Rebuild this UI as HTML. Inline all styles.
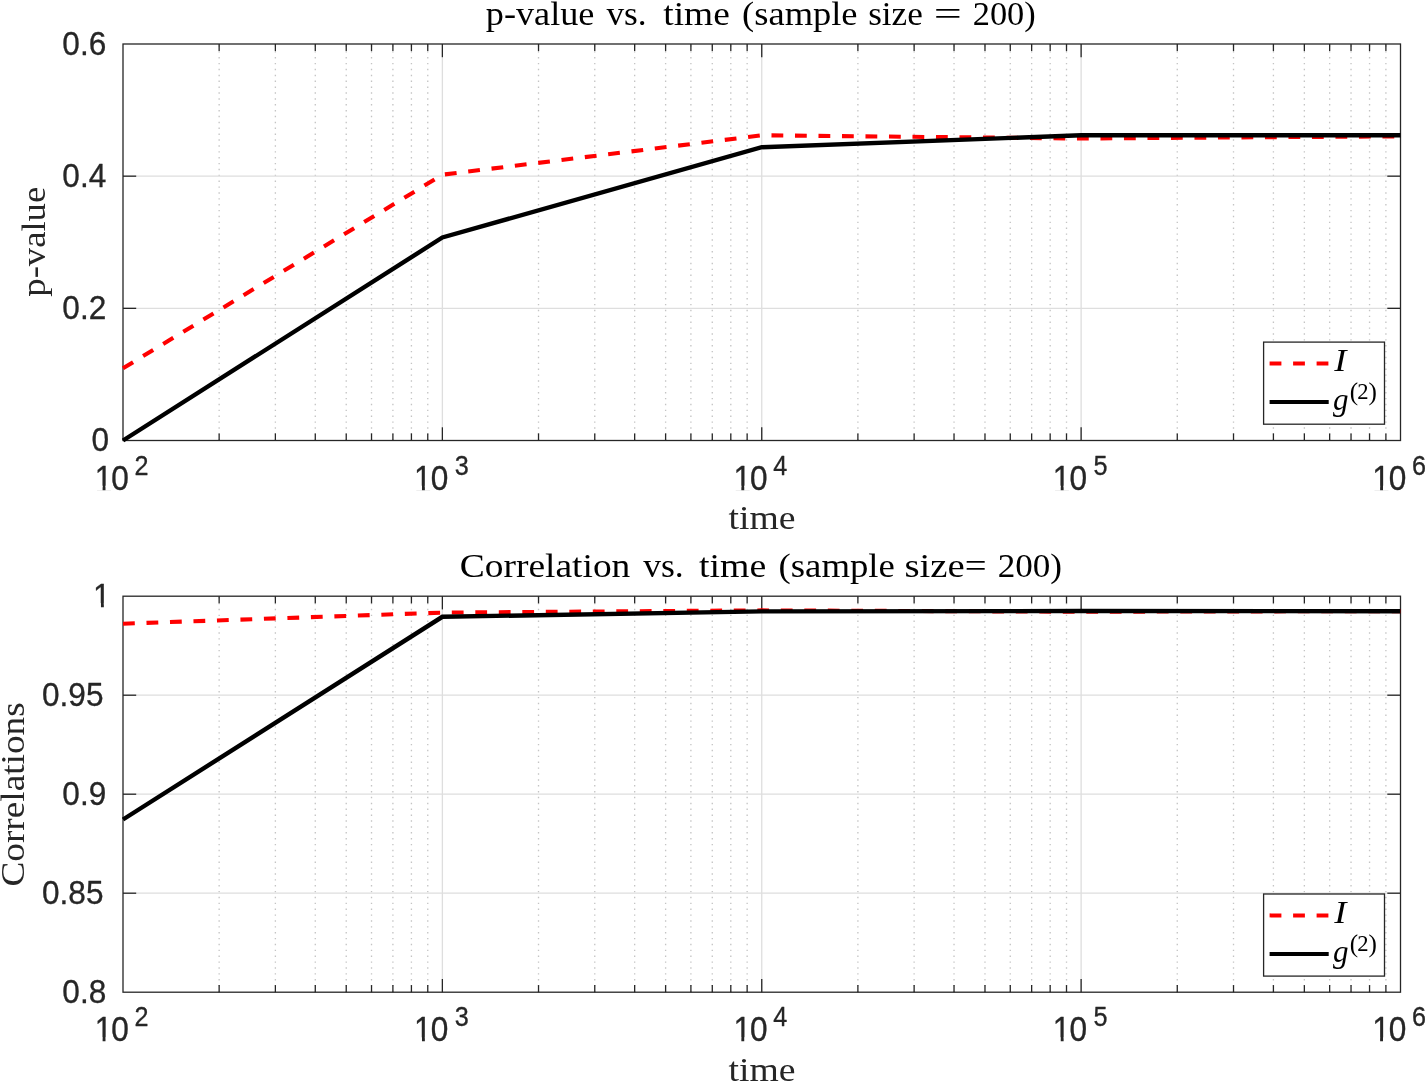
<!DOCTYPE html>
<html lang="en"><head><meta charset="utf-8"><title>p-value and correlation vs. time</title>
<style>html,body{margin:0;padding:0;background:#fff;}svg{display:block;}</style></head><body>
<svg width="1425" height="1081" viewBox="0 0 1425 1081">
<rect width="1425" height="1081" fill="#fff"/>
<g id="axes1">
<g stroke="#c4c4c4" stroke-width="1.33" stroke-dasharray="1.4 4.477" fill="none">
<line x1="219.14" y1="440.5" x2="219.14" y2="44"/>
<line x1="275.38" y1="440.5" x2="275.38" y2="44"/>
<line x1="315.28" y1="440.5" x2="315.28" y2="44"/>
<line x1="346.23" y1="440.5" x2="346.23" y2="44"/>
<line x1="371.52" y1="440.5" x2="371.52" y2="44"/>
<line x1="392.9" y1="440.5" x2="392.9" y2="44"/>
<line x1="411.42" y1="440.5" x2="411.42" y2="44"/>
<line x1="427.76" y1="440.5" x2="427.76" y2="44"/>
<line x1="538.52" y1="440.5" x2="538.52" y2="44"/>
<line x1="594.76" y1="440.5" x2="594.76" y2="44"/>
<line x1="634.66" y1="440.5" x2="634.66" y2="44"/>
<line x1="665.61" y1="440.5" x2="665.61" y2="44"/>
<line x1="690.9" y1="440.5" x2="690.9" y2="44"/>
<line x1="712.28" y1="440.5" x2="712.28" y2="44"/>
<line x1="730.8" y1="440.5" x2="730.8" y2="44"/>
<line x1="747.14" y1="440.5" x2="747.14" y2="44"/>
<line x1="857.89" y1="440.5" x2="857.89" y2="44"/>
<line x1="914.13" y1="440.5" x2="914.13" y2="44"/>
<line x1="954.03" y1="440.5" x2="954.03" y2="44"/>
<line x1="984.98" y1="440.5" x2="984.98" y2="44"/>
<line x1="1010.27" y1="440.5" x2="1010.27" y2="44"/>
<line x1="1031.65" y1="440.5" x2="1031.65" y2="44"/>
<line x1="1050.17" y1="440.5" x2="1050.17" y2="44"/>
<line x1="1066.51" y1="440.5" x2="1066.51" y2="44"/>
<line x1="1177.27" y1="440.5" x2="1177.27" y2="44"/>
<line x1="1233.51" y1="440.5" x2="1233.51" y2="44"/>
<line x1="1273.41" y1="440.5" x2="1273.41" y2="44"/>
<line x1="1304.36" y1="440.5" x2="1304.36" y2="44"/>
<line x1="1329.65" y1="440.5" x2="1329.65" y2="44"/>
<line x1="1351.03" y1="440.5" x2="1351.03" y2="44"/>
<line x1="1369.55" y1="440.5" x2="1369.55" y2="44"/>
<line x1="1385.89" y1="440.5" x2="1385.89" y2="44"/>
</g>
<g stroke="#dedede" stroke-width="1.3" fill="none">
<line x1="442.38" y1="44" x2="442.38" y2="440.5"/>
<line x1="761.75" y1="44" x2="761.75" y2="440.5"/>
<line x1="1081.12" y1="44" x2="1081.12" y2="440.5"/>
<line x1="123" y1="308.33" x2="1400.5" y2="308.33"/>
<line x1="123" y1="176.17" x2="1400.5" y2="176.17"/>
</g>
<g stroke="#262626" stroke-width="1.3" fill="none">
<line x1="219.14" y1="44" x2="219.14" y2="51.1"/>
<line x1="219.14" y1="440.5" x2="219.14" y2="433.4"/>
<line x1="275.38" y1="44" x2="275.38" y2="51.1"/>
<line x1="275.38" y1="440.5" x2="275.38" y2="433.4"/>
<line x1="315.28" y1="44" x2="315.28" y2="51.1"/>
<line x1="315.28" y1="440.5" x2="315.28" y2="433.4"/>
<line x1="346.23" y1="44" x2="346.23" y2="51.1"/>
<line x1="346.23" y1="440.5" x2="346.23" y2="433.4"/>
<line x1="371.52" y1="44" x2="371.52" y2="51.1"/>
<line x1="371.52" y1="440.5" x2="371.52" y2="433.4"/>
<line x1="392.9" y1="44" x2="392.9" y2="51.1"/>
<line x1="392.9" y1="440.5" x2="392.9" y2="433.4"/>
<line x1="411.42" y1="44" x2="411.42" y2="51.1"/>
<line x1="411.42" y1="440.5" x2="411.42" y2="433.4"/>
<line x1="427.76" y1="44" x2="427.76" y2="51.1"/>
<line x1="427.76" y1="440.5" x2="427.76" y2="433.4"/>
<line x1="442.38" y1="44" x2="442.38" y2="57.2"/>
<line x1="442.38" y1="440.5" x2="442.38" y2="427.3"/>
<line x1="538.52" y1="44" x2="538.52" y2="51.1"/>
<line x1="538.52" y1="440.5" x2="538.52" y2="433.4"/>
<line x1="594.76" y1="44" x2="594.76" y2="51.1"/>
<line x1="594.76" y1="440.5" x2="594.76" y2="433.4"/>
<line x1="634.66" y1="44" x2="634.66" y2="51.1"/>
<line x1="634.66" y1="440.5" x2="634.66" y2="433.4"/>
<line x1="665.61" y1="44" x2="665.61" y2="51.1"/>
<line x1="665.61" y1="440.5" x2="665.61" y2="433.4"/>
<line x1="690.9" y1="44" x2="690.9" y2="51.1"/>
<line x1="690.9" y1="440.5" x2="690.9" y2="433.4"/>
<line x1="712.28" y1="44" x2="712.28" y2="51.1"/>
<line x1="712.28" y1="440.5" x2="712.28" y2="433.4"/>
<line x1="730.8" y1="44" x2="730.8" y2="51.1"/>
<line x1="730.8" y1="440.5" x2="730.8" y2="433.4"/>
<line x1="747.14" y1="44" x2="747.14" y2="51.1"/>
<line x1="747.14" y1="440.5" x2="747.14" y2="433.4"/>
<line x1="761.75" y1="44" x2="761.75" y2="57.2"/>
<line x1="761.75" y1="440.5" x2="761.75" y2="427.3"/>
<line x1="857.89" y1="44" x2="857.89" y2="51.1"/>
<line x1="857.89" y1="440.5" x2="857.89" y2="433.4"/>
<line x1="914.13" y1="44" x2="914.13" y2="51.1"/>
<line x1="914.13" y1="440.5" x2="914.13" y2="433.4"/>
<line x1="954.03" y1="44" x2="954.03" y2="51.1"/>
<line x1="954.03" y1="440.5" x2="954.03" y2="433.4"/>
<line x1="984.98" y1="44" x2="984.98" y2="51.1"/>
<line x1="984.98" y1="440.5" x2="984.98" y2="433.4"/>
<line x1="1010.27" y1="44" x2="1010.27" y2="51.1"/>
<line x1="1010.27" y1="440.5" x2="1010.27" y2="433.4"/>
<line x1="1031.65" y1="44" x2="1031.65" y2="51.1"/>
<line x1="1031.65" y1="440.5" x2="1031.65" y2="433.4"/>
<line x1="1050.17" y1="44" x2="1050.17" y2="51.1"/>
<line x1="1050.17" y1="440.5" x2="1050.17" y2="433.4"/>
<line x1="1066.51" y1="44" x2="1066.51" y2="51.1"/>
<line x1="1066.51" y1="440.5" x2="1066.51" y2="433.4"/>
<line x1="1081.12" y1="44" x2="1081.12" y2="57.2"/>
<line x1="1081.12" y1="440.5" x2="1081.12" y2="427.3"/>
<line x1="1177.27" y1="44" x2="1177.27" y2="51.1"/>
<line x1="1177.27" y1="440.5" x2="1177.27" y2="433.4"/>
<line x1="1233.51" y1="44" x2="1233.51" y2="51.1"/>
<line x1="1233.51" y1="440.5" x2="1233.51" y2="433.4"/>
<line x1="1273.41" y1="44" x2="1273.41" y2="51.1"/>
<line x1="1273.41" y1="440.5" x2="1273.41" y2="433.4"/>
<line x1="1304.36" y1="44" x2="1304.36" y2="51.1"/>
<line x1="1304.36" y1="440.5" x2="1304.36" y2="433.4"/>
<line x1="1329.65" y1="44" x2="1329.65" y2="51.1"/>
<line x1="1329.65" y1="440.5" x2="1329.65" y2="433.4"/>
<line x1="1351.03" y1="44" x2="1351.03" y2="51.1"/>
<line x1="1351.03" y1="440.5" x2="1351.03" y2="433.4"/>
<line x1="1369.55" y1="44" x2="1369.55" y2="51.1"/>
<line x1="1369.55" y1="440.5" x2="1369.55" y2="433.4"/>
<line x1="1385.89" y1="44" x2="1385.89" y2="51.1"/>
<line x1="1385.89" y1="440.5" x2="1385.89" y2="433.4"/>
<line x1="123" y1="308.33" x2="136.2" y2="308.33"/>
<line x1="1400.5" y1="308.33" x2="1387.3" y2="308.33"/>
<line x1="123" y1="176.17" x2="136.2" y2="176.17"/>
<line x1="1400.5" y1="176.17" x2="1387.3" y2="176.17"/>
</g>
<rect x="123" y="44" width="1277.5" height="396.5" fill="none" stroke="#262626" stroke-width="1.3"/>
<g fill="none" stroke-linejoin="miter">
<polyline points="123,368.3 442.38,174.7 761.75,135.3 1081.12,138.5 1400.5,136.3" stroke="#ff0000" stroke-width="4.1" stroke-dasharray="11.8 11.7"/>
<polyline points="123,440.5 442.38,237.5 761.75,147.2 1081.12,135.3 1400.5,135.3" stroke="#000" stroke-width="4.4"/>
</g>
<g font-family="'Liberation Sans', Arial, Helvetica, sans-serif" font-size="31" fill="#262626" stroke="#262626" stroke-width="0.3" stroke-linejoin="round">
<g transform="translate(91.45 451.3) scale(1.02 1.09)"><text>0</text></g>
<g transform="translate(62.35 319.13) scale(1.02 1.09)"><text>0.2</text></g>
<g transform="translate(62.35 186.97) scale(1.02 1.09)"><text>0.4</text></g>
<g transform="translate(62.35 54.8) scale(1.02 1.09)"><text>0.6</text></g>
</g>
<g font-family="'Liberation Sans', Arial, Helvetica, sans-serif" fill="#262626" stroke="#262626" stroke-width="0.3" stroke-linejoin="round">
<g transform="translate(94.7 489.6) scale(1.02 1.12)"><text font-size="31">1<tspan dx="-1">0</tspan></text><rect x="0.6" y="-3.5" width="7.15" height="4.5" fill="#fff" stroke="none"/><rect x="10.58" y="-3.5" width="6.4" height="4.5" fill="#fff" stroke="none"/></g>
<text transform="translate(134.4 474.5) scale(1 1.09)" font-size="25.2">2</text>
<g transform="translate(414.07 489.6) scale(1.02 1.12)"><text font-size="31">1<tspan dx="-1">0</tspan></text><rect x="0.6" y="-3.5" width="7.15" height="4.5" fill="#fff" stroke="none"/><rect x="10.58" y="-3.5" width="6.4" height="4.5" fill="#fff" stroke="none"/></g>
<text transform="translate(454.67 474.5) scale(1 1.09)" font-size="25.2">3</text>
<g transform="translate(733.45 489.6) scale(1.02 1.12)"><text font-size="31">1<tspan dx="-1">0</tspan></text><rect x="0.6" y="-3.5" width="7.15" height="4.5" fill="#fff" stroke="none"/><rect x="10.58" y="-3.5" width="6.4" height="4.5" fill="#fff" stroke="none"/></g>
<text transform="translate(773.15 474.5) scale(1 1.09)" font-size="25.2">4</text>
<g transform="translate(1052.83 489.6) scale(1.02 1.12)"><text font-size="31">1<tspan dx="-1">0</tspan></text><rect x="0.6" y="-3.5" width="7.15" height="4.5" fill="#fff" stroke="none"/><rect x="10.58" y="-3.5" width="6.4" height="4.5" fill="#fff" stroke="none"/></g>
<text transform="translate(1093.43 474.5) scale(1 1.09)" font-size="25.2">5</text>
<g transform="translate(1372.2 489.6) scale(1.02 1.12)"><text font-size="31">1<tspan dx="-1">0</tspan></text><rect x="0.6" y="-3.5" width="7.15" height="4.5" fill="#fff" stroke="none"/><rect x="10.58" y="-3.5" width="6.4" height="4.5" fill="#fff" stroke="none"/></g>
<text transform="translate(1411.9 474.5) scale(1 1.09)" font-size="25.2">6</text>
</g>
<rect x="1263.6" y="342.1" width="120.9" height="82.1" fill="#fff" stroke="#262626" stroke-width="1.3"/>
<line x1="1269.6" y1="363.5" x2="1328.7" y2="363.5" stroke="#ff0000" stroke-width="4" stroke-dasharray="11.8 11.7"/>
<line x1="1269.6" y1="402" x2="1328.7" y2="402" stroke="#000" stroke-width="4"/>
<g font-family="'Liberation Serif', 'DejaVu Serif', serif" fill="#000">
<text transform="translate(1334.2 371.3) scale(1.13 1)" font-style="italic" font-size="32.4">I</text>
<text x="1332.9" y="410.3" font-style="italic" font-size="31">g</text>
<text x="1349.7" y="399.6" font-size="25.2">(</text>
<text x="1357.2" y="399.1" font-size="22.6">2</text>
<text x="1368.4" y="399.6" font-size="25.2">)</text>
</g>
</g>
<text x="485.82" y="25.3" font-family="'Liberation Serif', 'DejaVu Serif', serif" font-size="33.5" fill="#000" textLength="108.64" lengthAdjust="spacingAndGlyphs">p-value</text>
<text x="606.4" y="25.3" font-family="'Liberation Serif', 'DejaVu Serif', serif" font-size="33.5" fill="#000" textLength="40.23" lengthAdjust="spacingAndGlyphs">vs.</text>
<text x="663.33" y="25.3" font-family="'Liberation Serif', 'DejaVu Serif', serif" font-size="33.5" fill="#000" textLength="66.46" lengthAdjust="spacingAndGlyphs">time</text>
<text x="742.1" y="25.3" font-family="'Liberation Serif', 'DejaVu Serif', serif" font-size="33.5" fill="#000" textLength="115.47" lengthAdjust="spacingAndGlyphs">(sample</text>
<text x="868.16" y="25.3" font-family="'Liberation Serif', 'DejaVu Serif', serif" font-size="33.5" fill="#000" textLength="54.66" lengthAdjust="spacingAndGlyphs">size</text>
<text x="933.82" y="25.3" font-family="'Liberation Serif', 'DejaVu Serif', serif" font-size="33.5" fill="#000" textLength="28.12" lengthAdjust="spacingAndGlyphs">=</text>
<text x="972.69" y="25.3" font-family="'Liberation Serif', 'DejaVu Serif', serif" font-size="33.5" fill="#000" textLength="63.02" lengthAdjust="spacingAndGlyphs">200)</text>
<text x="728.63" y="529" font-family="'Liberation Serif', 'DejaVu Serif', serif" font-size="33.5" fill="#262626" textLength="66.97" lengthAdjust="spacingAndGlyphs">time</text>
<text transform="translate(45.1 296.1) rotate(-90)" x="-0.59" font-family="'Liberation Serif', 'DejaVu Serif', serif" font-size="33.5" fill="#262626" textLength="109.86" lengthAdjust="spacingAndGlyphs">p-value</text>
<g id="axes2">
<g stroke="#c4c4c4" stroke-width="1.33" stroke-dasharray="1.4 4.477" fill="none">
<line x1="219.14" y1="992.2" x2="219.14" y2="596.2"/>
<line x1="275.38" y1="992.2" x2="275.38" y2="596.2"/>
<line x1="315.28" y1="992.2" x2="315.28" y2="596.2"/>
<line x1="346.23" y1="992.2" x2="346.23" y2="596.2"/>
<line x1="371.52" y1="992.2" x2="371.52" y2="596.2"/>
<line x1="392.9" y1="992.2" x2="392.9" y2="596.2"/>
<line x1="411.42" y1="992.2" x2="411.42" y2="596.2"/>
<line x1="427.76" y1="992.2" x2="427.76" y2="596.2"/>
<line x1="538.52" y1="992.2" x2="538.52" y2="596.2"/>
<line x1="594.76" y1="992.2" x2="594.76" y2="596.2"/>
<line x1="634.66" y1="992.2" x2="634.66" y2="596.2"/>
<line x1="665.61" y1="992.2" x2="665.61" y2="596.2"/>
<line x1="690.9" y1="992.2" x2="690.9" y2="596.2"/>
<line x1="712.28" y1="992.2" x2="712.28" y2="596.2"/>
<line x1="730.8" y1="992.2" x2="730.8" y2="596.2"/>
<line x1="747.14" y1="992.2" x2="747.14" y2="596.2"/>
<line x1="857.89" y1="992.2" x2="857.89" y2="596.2"/>
<line x1="914.13" y1="992.2" x2="914.13" y2="596.2"/>
<line x1="954.03" y1="992.2" x2="954.03" y2="596.2"/>
<line x1="984.98" y1="992.2" x2="984.98" y2="596.2"/>
<line x1="1010.27" y1="992.2" x2="1010.27" y2="596.2"/>
<line x1="1031.65" y1="992.2" x2="1031.65" y2="596.2"/>
<line x1="1050.17" y1="992.2" x2="1050.17" y2="596.2"/>
<line x1="1066.51" y1="992.2" x2="1066.51" y2="596.2"/>
<line x1="1177.27" y1="992.2" x2="1177.27" y2="596.2"/>
<line x1="1233.51" y1="992.2" x2="1233.51" y2="596.2"/>
<line x1="1273.41" y1="992.2" x2="1273.41" y2="596.2"/>
<line x1="1304.36" y1="992.2" x2="1304.36" y2="596.2"/>
<line x1="1329.65" y1="992.2" x2="1329.65" y2="596.2"/>
<line x1="1351.03" y1="992.2" x2="1351.03" y2="596.2"/>
<line x1="1369.55" y1="992.2" x2="1369.55" y2="596.2"/>
<line x1="1385.89" y1="992.2" x2="1385.89" y2="596.2"/>
</g>
<g stroke="#dedede" stroke-width="1.3" fill="none">
<line x1="442.38" y1="596.2" x2="442.38" y2="992.2"/>
<line x1="761.75" y1="596.2" x2="761.75" y2="992.2"/>
<line x1="1081.12" y1="596.2" x2="1081.12" y2="992.2"/>
<line x1="123" y1="893.2" x2="1400.5" y2="893.2"/>
<line x1="123" y1="794.2" x2="1400.5" y2="794.2"/>
<line x1="123" y1="695.2" x2="1400.5" y2="695.2"/>
</g>
<g stroke="#262626" stroke-width="1.3" fill="none">
<line x1="219.14" y1="596.2" x2="219.14" y2="603.3"/>
<line x1="219.14" y1="992.2" x2="219.14" y2="985.1"/>
<line x1="275.38" y1="596.2" x2="275.38" y2="603.3"/>
<line x1="275.38" y1="992.2" x2="275.38" y2="985.1"/>
<line x1="315.28" y1="596.2" x2="315.28" y2="603.3"/>
<line x1="315.28" y1="992.2" x2="315.28" y2="985.1"/>
<line x1="346.23" y1="596.2" x2="346.23" y2="603.3"/>
<line x1="346.23" y1="992.2" x2="346.23" y2="985.1"/>
<line x1="371.52" y1="596.2" x2="371.52" y2="603.3"/>
<line x1="371.52" y1="992.2" x2="371.52" y2="985.1"/>
<line x1="392.9" y1="596.2" x2="392.9" y2="603.3"/>
<line x1="392.9" y1="992.2" x2="392.9" y2="985.1"/>
<line x1="411.42" y1="596.2" x2="411.42" y2="603.3"/>
<line x1="411.42" y1="992.2" x2="411.42" y2="985.1"/>
<line x1="427.76" y1="596.2" x2="427.76" y2="603.3"/>
<line x1="427.76" y1="992.2" x2="427.76" y2="985.1"/>
<line x1="442.38" y1="596.2" x2="442.38" y2="609.4"/>
<line x1="442.38" y1="992.2" x2="442.38" y2="979"/>
<line x1="538.52" y1="596.2" x2="538.52" y2="603.3"/>
<line x1="538.52" y1="992.2" x2="538.52" y2="985.1"/>
<line x1="594.76" y1="596.2" x2="594.76" y2="603.3"/>
<line x1="594.76" y1="992.2" x2="594.76" y2="985.1"/>
<line x1="634.66" y1="596.2" x2="634.66" y2="603.3"/>
<line x1="634.66" y1="992.2" x2="634.66" y2="985.1"/>
<line x1="665.61" y1="596.2" x2="665.61" y2="603.3"/>
<line x1="665.61" y1="992.2" x2="665.61" y2="985.1"/>
<line x1="690.9" y1="596.2" x2="690.9" y2="603.3"/>
<line x1="690.9" y1="992.2" x2="690.9" y2="985.1"/>
<line x1="712.28" y1="596.2" x2="712.28" y2="603.3"/>
<line x1="712.28" y1="992.2" x2="712.28" y2="985.1"/>
<line x1="730.8" y1="596.2" x2="730.8" y2="603.3"/>
<line x1="730.8" y1="992.2" x2="730.8" y2="985.1"/>
<line x1="747.14" y1="596.2" x2="747.14" y2="603.3"/>
<line x1="747.14" y1="992.2" x2="747.14" y2="985.1"/>
<line x1="761.75" y1="596.2" x2="761.75" y2="609.4"/>
<line x1="761.75" y1="992.2" x2="761.75" y2="979"/>
<line x1="857.89" y1="596.2" x2="857.89" y2="603.3"/>
<line x1="857.89" y1="992.2" x2="857.89" y2="985.1"/>
<line x1="914.13" y1="596.2" x2="914.13" y2="603.3"/>
<line x1="914.13" y1="992.2" x2="914.13" y2="985.1"/>
<line x1="954.03" y1="596.2" x2="954.03" y2="603.3"/>
<line x1="954.03" y1="992.2" x2="954.03" y2="985.1"/>
<line x1="984.98" y1="596.2" x2="984.98" y2="603.3"/>
<line x1="984.98" y1="992.2" x2="984.98" y2="985.1"/>
<line x1="1010.27" y1="596.2" x2="1010.27" y2="603.3"/>
<line x1="1010.27" y1="992.2" x2="1010.27" y2="985.1"/>
<line x1="1031.65" y1="596.2" x2="1031.65" y2="603.3"/>
<line x1="1031.65" y1="992.2" x2="1031.65" y2="985.1"/>
<line x1="1050.17" y1="596.2" x2="1050.17" y2="603.3"/>
<line x1="1050.17" y1="992.2" x2="1050.17" y2="985.1"/>
<line x1="1066.51" y1="596.2" x2="1066.51" y2="603.3"/>
<line x1="1066.51" y1="992.2" x2="1066.51" y2="985.1"/>
<line x1="1081.12" y1="596.2" x2="1081.12" y2="609.4"/>
<line x1="1081.12" y1="992.2" x2="1081.12" y2="979"/>
<line x1="1177.27" y1="596.2" x2="1177.27" y2="603.3"/>
<line x1="1177.27" y1="992.2" x2="1177.27" y2="985.1"/>
<line x1="1233.51" y1="596.2" x2="1233.51" y2="603.3"/>
<line x1="1233.51" y1="992.2" x2="1233.51" y2="985.1"/>
<line x1="1273.41" y1="596.2" x2="1273.41" y2="603.3"/>
<line x1="1273.41" y1="992.2" x2="1273.41" y2="985.1"/>
<line x1="1304.36" y1="596.2" x2="1304.36" y2="603.3"/>
<line x1="1304.36" y1="992.2" x2="1304.36" y2="985.1"/>
<line x1="1329.65" y1="596.2" x2="1329.65" y2="603.3"/>
<line x1="1329.65" y1="992.2" x2="1329.65" y2="985.1"/>
<line x1="1351.03" y1="596.2" x2="1351.03" y2="603.3"/>
<line x1="1351.03" y1="992.2" x2="1351.03" y2="985.1"/>
<line x1="1369.55" y1="596.2" x2="1369.55" y2="603.3"/>
<line x1="1369.55" y1="992.2" x2="1369.55" y2="985.1"/>
<line x1="1385.89" y1="596.2" x2="1385.89" y2="603.3"/>
<line x1="1385.89" y1="992.2" x2="1385.89" y2="985.1"/>
<line x1="123" y1="893.2" x2="136.2" y2="893.2"/>
<line x1="1400.5" y1="893.2" x2="1387.3" y2="893.2"/>
<line x1="123" y1="794.2" x2="136.2" y2="794.2"/>
<line x1="1400.5" y1="794.2" x2="1387.3" y2="794.2"/>
<line x1="123" y1="695.2" x2="136.2" y2="695.2"/>
<line x1="1400.5" y1="695.2" x2="1387.3" y2="695.2"/>
</g>
<rect x="123" y="596.2" width="1277.5" height="396" fill="none" stroke="#262626" stroke-width="1.3"/>
<g fill="none" stroke-linejoin="miter">
<polyline points="123,623.7 442.38,612.6 761.75,610.4 1081.12,611.7 1400.5,611.1" stroke="#ff0000" stroke-width="4.1" stroke-dasharray="11.8 11.7"/>
<polyline points="123,819.5 442.38,616.8 761.75,611.4 1081.12,611 1400.5,611.2" stroke="#000" stroke-width="4.4"/>
</g>
<g font-family="'Liberation Sans', Arial, Helvetica, sans-serif" font-size="31" fill="#262626" stroke="#262626" stroke-width="0.3" stroke-linejoin="round">
<g transform="translate(62.35 1003) scale(1.02 1.09)"><text>0.8</text></g>
<g transform="translate(41.96 904) scale(1.02 1.09)"><text>0.85</text></g>
<g transform="translate(62.35 805) scale(1.02 1.09)"><text>0.9</text></g>
<g transform="translate(41.96 706) scale(1.02 1.09)"><text>0.95</text></g>
<g transform="translate(93.05 607) scale(1.02 1.09)"><text>1</text><rect x="0.6" y="-3.5" width="7.15" height="4.5" fill="#fff" stroke="none"/><rect x="10.58" y="-3.5" width="6.4" height="4.5" fill="#fff" stroke="none"/></g>
</g>
<g font-family="'Liberation Sans', Arial, Helvetica, sans-serif" fill="#262626" stroke="#262626" stroke-width="0.3" stroke-linejoin="round">
<g transform="translate(94.7 1041.3) scale(1.02 1.12)"><text font-size="31">1<tspan dx="-1">0</tspan></text><rect x="0.6" y="-3.5" width="7.15" height="4.5" fill="#fff" stroke="none"/><rect x="10.58" y="-3.5" width="6.4" height="4.5" fill="#fff" stroke="none"/></g>
<text transform="translate(134.4 1026.2) scale(1 1.09)" font-size="25.2">2</text>
<g transform="translate(414.07 1041.3) scale(1.02 1.12)"><text font-size="31">1<tspan dx="-1">0</tspan></text><rect x="0.6" y="-3.5" width="7.15" height="4.5" fill="#fff" stroke="none"/><rect x="10.58" y="-3.5" width="6.4" height="4.5" fill="#fff" stroke="none"/></g>
<text transform="translate(454.67 1026.2) scale(1 1.09)" font-size="25.2">3</text>
<g transform="translate(733.45 1041.3) scale(1.02 1.12)"><text font-size="31">1<tspan dx="-1">0</tspan></text><rect x="0.6" y="-3.5" width="7.15" height="4.5" fill="#fff" stroke="none"/><rect x="10.58" y="-3.5" width="6.4" height="4.5" fill="#fff" stroke="none"/></g>
<text transform="translate(773.15 1026.2) scale(1 1.09)" font-size="25.2">4</text>
<g transform="translate(1052.83 1041.3) scale(1.02 1.12)"><text font-size="31">1<tspan dx="-1">0</tspan></text><rect x="0.6" y="-3.5" width="7.15" height="4.5" fill="#fff" stroke="none"/><rect x="10.58" y="-3.5" width="6.4" height="4.5" fill="#fff" stroke="none"/></g>
<text transform="translate(1093.43 1026.2) scale(1 1.09)" font-size="25.2">5</text>
<g transform="translate(1372.2 1041.3) scale(1.02 1.12)"><text font-size="31">1<tspan dx="-1">0</tspan></text><rect x="0.6" y="-3.5" width="7.15" height="4.5" fill="#fff" stroke="none"/><rect x="10.58" y="-3.5" width="6.4" height="4.5" fill="#fff" stroke="none"/></g>
<text transform="translate(1411.9 1026.2) scale(1 1.09)" font-size="25.2">6</text>
</g>
<rect x="1263.6" y="894" width="120.9" height="82.1" fill="#fff" stroke="#262626" stroke-width="1.3"/>
<line x1="1269.6" y1="915.4" x2="1328.7" y2="915.4" stroke="#ff0000" stroke-width="4" stroke-dasharray="11.8 11.7"/>
<line x1="1269.6" y1="953.9" x2="1328.7" y2="953.9" stroke="#000" stroke-width="4"/>
<g font-family="'Liberation Serif', 'DejaVu Serif', serif" fill="#000">
<text transform="translate(1334.2 923.2) scale(1.13 1)" font-style="italic" font-size="32.4">I</text>
<text x="1332.9" y="962.2" font-style="italic" font-size="31">g</text>
<text x="1349.7" y="951.5" font-size="25.2">(</text>
<text x="1357.2" y="951" font-size="22.6">2</text>
<text x="1368.4" y="951.5" font-size="25.2">)</text>
</g>
</g>
<text x="459.76" y="577" font-family="'Liberation Serif', 'DejaVu Serif', serif" font-size="33.5" fill="#000" textLength="170.6" lengthAdjust="spacingAndGlyphs">Correlation</text>
<text x="643.2" y="577" font-family="'Liberation Serif', 'DejaVu Serif', serif" font-size="33.5" fill="#000" textLength="40.55" lengthAdjust="spacingAndGlyphs">vs.</text>
<text x="699.03" y="577" font-family="'Liberation Serif', 'DejaVu Serif', serif" font-size="33.5" fill="#000" textLength="67.18" lengthAdjust="spacingAndGlyphs">time</text>
<text x="778.59" y="577" font-family="'Liberation Serif', 'DejaVu Serif', serif" font-size="33.5" fill="#000" textLength="116.29" lengthAdjust="spacingAndGlyphs">(sample</text>
<text x="904.41" y="577" font-family="'Liberation Serif', 'DejaVu Serif', serif" font-size="33.5" fill="#000" textLength="82.08" lengthAdjust="spacingAndGlyphs">size=</text>
<text x="997.66" y="577" font-family="'Liberation Serif', 'DejaVu Serif', serif" font-size="33.5" fill="#000" textLength="64.39" lengthAdjust="spacingAndGlyphs">200)</text>
<text x="728.63" y="1081" font-family="'Liberation Serif', 'DejaVu Serif', serif" font-size="33.5" fill="#262626" textLength="66.97" lengthAdjust="spacingAndGlyphs">time</text>
<text transform="translate(24.3 885.1) rotate(-90)" x="-1.53" font-family="'Liberation Serif', 'DejaVu Serif', serif" font-size="33.5" fill="#262626" textLength="184.38" lengthAdjust="spacingAndGlyphs">Correlations</text>
</svg></body></html>
